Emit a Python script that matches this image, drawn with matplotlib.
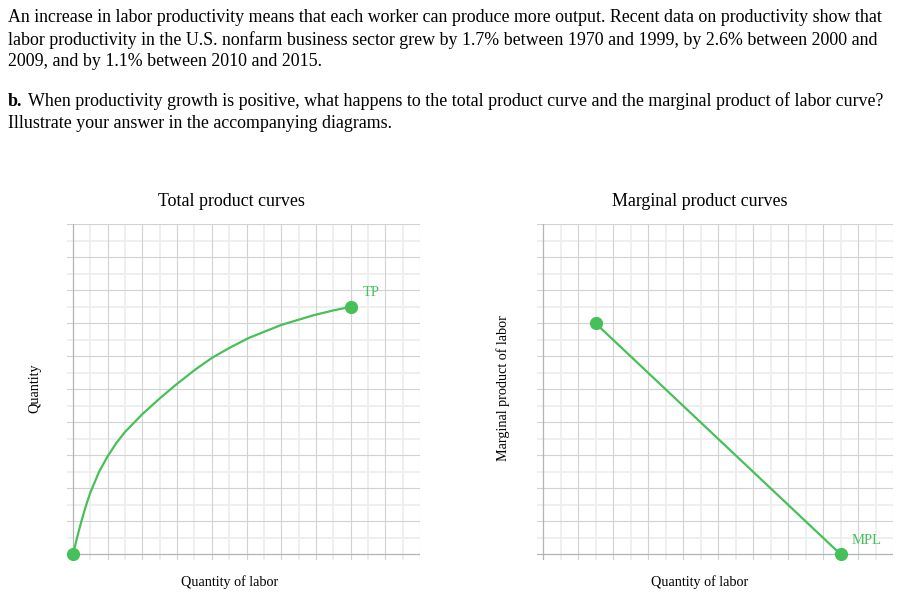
import numpy as np
import matplotlib.pyplot as plt

plt.rcParams['font.family'] = ['Liberation Serif', 'DejaVu Serif']

# total product curve
tp_x = [0, 0.23, 0.48, 0.76, 1.0, 1.5, 2.0, 2.5, 3.0, 4.0, 5.0, 5.9, 7.05, 8.0, 9.0, 10.1, 12.0, 13.9, 15.0, 16.0]
tp_y = [0, 1.0, 2.0, 3.0, 3.75, 5.0, 5.95, 6.75, 7.42, 8.5, 9.45, 10.25, 11.2, 11.9, 12.5, 13.1, 13.9, 14.5, 14.78, 15.0]
# marginal product line
mpl_x = [3, 17]
mpl_y = [14, 0]

green = '#46c15a'
fs = 12.9
para = ['An increase in labor productivity means that each worker can produce more output. Recent data on productivity show that',
        'labor productivity in the U.S. nonfarm business sector grew by 1.7% between 1970 and 1999, by 2.6% between 2000 and',
        '2009, and by 1.1% between 2010 and 2015.']
qb1 = 'When productivity growth is positive, what happens to the total product curve and the marginal product of labor curve?'
qb2 = 'Illustrate your answer in the accompanying diagrams.'

fig = plt.figure(figsize=(9.15, 5.97), dpi=100)
for line, ypx in zip(para, [17, 40, 62]):
    fig.text(8/915, 1-ypx/597, line, fontsize=fs, va='center', ha='left')
fig.text(8/915, 1-101/597, 'b.', fontsize=fs, va='center', ha='left', fontweight='bold')
fig.text(28/915, 1-101/597, qb1, fontsize=fs, va='center', ha='left')
fig.text(8/915, 1-124/597, qb2, fontsize=fs, va='center', ha='left')


def grid_axes(rect):
    ax = fig.add_axes(rect)
    ax.set_xlim(-0.35, 20)
    ax.set_ylim(-0.35, 20.02)
    for i in range(1, 21):
        if i % 2:
            ax.axvline(i, color='#eeeeee', lw=1.3, zorder=0)
            ax.axhline(i, color='#eeeeee', lw=1.3, zorder=0)
        else:
            ax.axvline(i, color='#d2d2d2', lw=0.8, zorder=0.5)
            ax.axhline(i, color='#d2d2d2', lw=0.8, zorder=0.5)
    ax.axvline(0, color='#b4b4b4', lw=0.9, zorder=1)
    ax.axhline(0, color='#b4b4b4', lw=0.9, zorder=1)
    for s in ax.spines.values():
        s.set_visible(False)
    ax.set_xticks([])
    ax.set_yticks([])
    return ax


ax1 = grid_axes([67/915, 1-560/597, 353/915, 336/597])
ax1.plot(tp_x, tp_y, color=green, lw=1.6, zorder=3, solid_joinstyle='round')
ax1.plot([tp_x[0], tp_x[-1]], [tp_y[0], tp_y[-1]], 'o', color=green, ms=8.5, zorder=4)
ax1.text(17.2, 15.45, 'TP', color=green, fontsize=10.5, ha='center', va='bottom')
fig.text(231/915, 1-201/597, 'Total product curves', fontsize=fs, ha='center', va='center')
fig.text(230/915, 1-582/597, 'Quantity of labor', fontsize=10.2, ha='center', va='center')
fig.text(35/915, 1-388/597, 'Quantity', fontsize=10.2, ha='center', va='center', rotation=90)

ax2 = grid_axes([537/915, 1-560/597, 356/915, 336/597])
ax2.plot(mpl_x, mpl_y, color=green, lw=1.6, zorder=3)
ax2.plot(mpl_x, mpl_y, 'o', color=green, ms=8.5, zorder=4)
ax2.text(18.5, 0.85, 'MPL', color=green, fontsize=10.5, ha='center', va='center')
fig.text(700/915, 1-201/597, 'Marginal product curves', fontsize=fs, ha='center', va='center')
fig.text(700/915, 1-582/597, 'Quantity of labor', fontsize=10.2, ha='center', va='center')
fig.text(503/915, 1-388/597, 'Marginal product of labor', fontsize=10.2, ha='center', va='center', rotation=90)

fig.savefig('out.png', dpi=100)
